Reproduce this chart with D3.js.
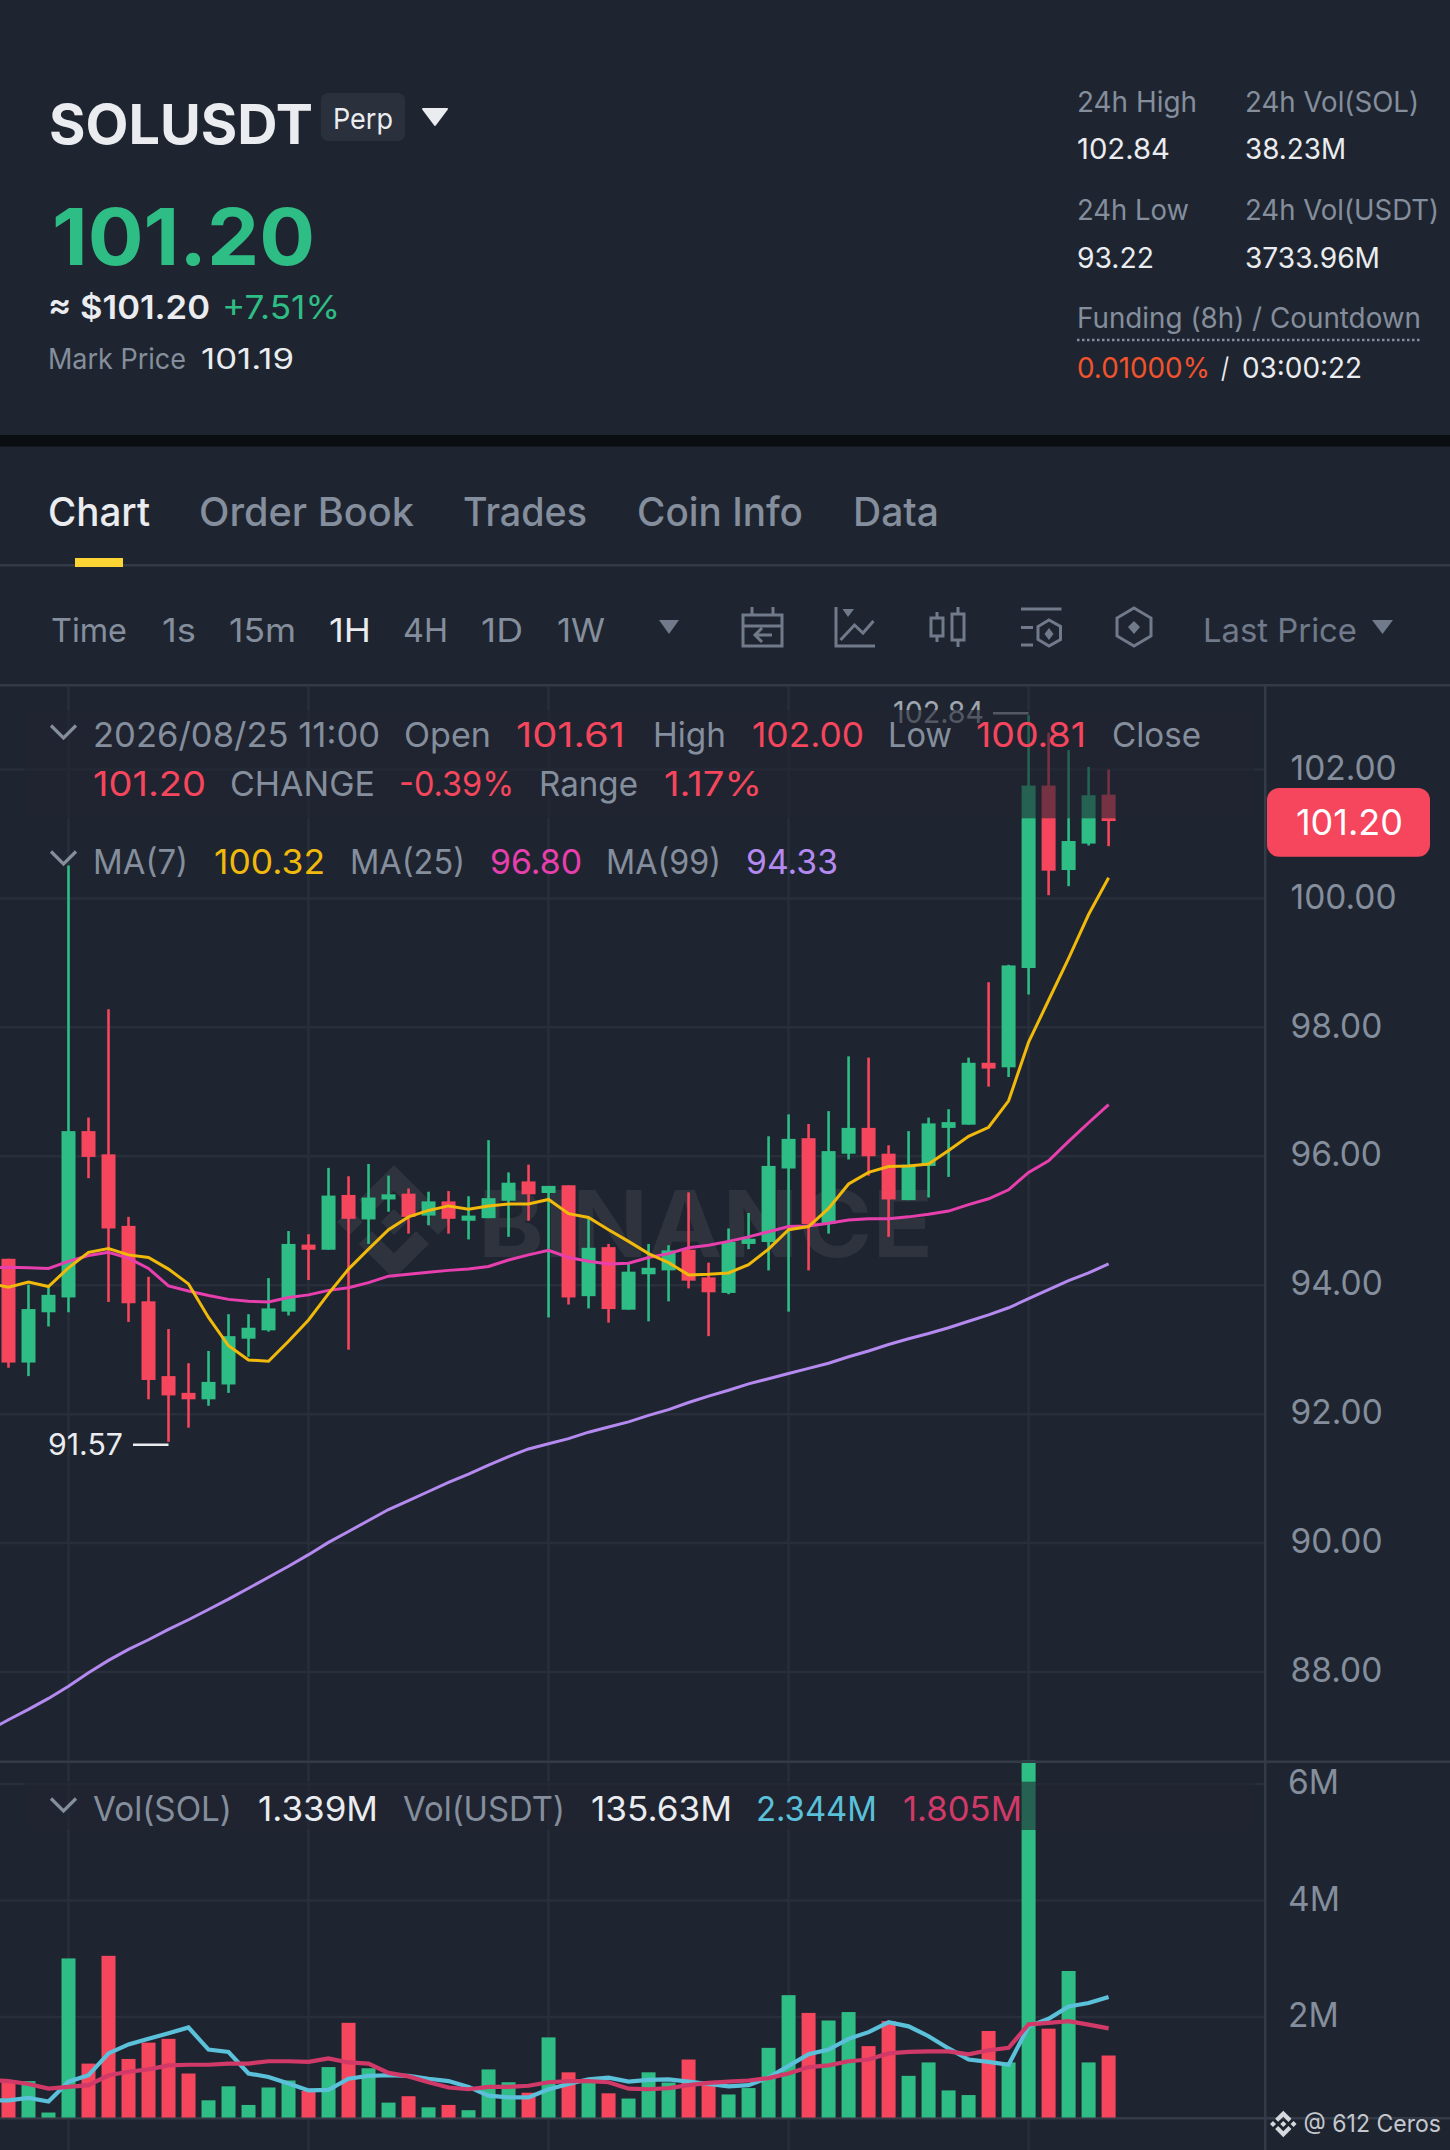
<!DOCTYPE html>
<html>
<head>
<meta charset="utf-8">
<script src="https://cdnjs.cloudflare.com/ajax/libs/d3/7.8.5/d3.min.js"></script>
<style>
  html, body { margin: 0; padding: 0; background: #1f2530; }
  svg { display: block; }
  text { font-family: Inter, "Noto Sans", sans-serif; }
</style>
</head>
<body>
<svg id="chart"></svg>
<script>
const width = 1450;
const height = 2150;

// Candles, oldest first
const opens = [94.41,92.80,93.58,93.81,96.39,96.03,94.92,93.75,92.59,92.33,92.23,92.46,93.17,93.30,93.59,94.63,94.55,95.40,95.02,95.33,95.42,95.08,95.30,95.00,95.04,95.31,95.61,95.43,95.55,93.83,94.59,93.62,94.17,94.23,94.55,94.12,93.88,94.64,94.67,95.81,96.28,94.95,96.04,96.44,96.04,95.32,95.85,96.44,96.49,97.45,97.38,98.92,101.75,100.44,100.85,101.61];
const highs = [94.41,94.01,93.97,100.51,96.60,98.28,95.06,94.13,93.32,92.79,92.98,93.55,93.55,94.11,94.84,94.79,95.82,95.69,95.88,95.70,95.50,95.45,95.46,95.38,96.25,95.75,95.87,95.54,95.55,95.04,94.64,94.33,94.64,94.62,95.44,94.35,94.88,95.12,96.31,96.65,96.50,96.70,97.55,97.53,96.17,96.39,96.60,96.73,97.53,98.70,98.97,102.84,102.57,102.30,102.04,102.00];
const lows = [92.72,92.59,93.36,93.58,95.66,93.74,93.43,92.23,91.57,91.79,92.13,92.33,92.89,93.28,93.53,94.08,94.55,93.00,94.64,95.14,94.80,94.93,94.80,94.71,95.04,94.75,95.00,93.50,93.70,93.64,93.42,93.62,93.44,93.75,93.95,93.21,93.86,94.56,94.23,93.59,94.23,94.80,95.95,95.70,94.75,95.32,95.36,95.68,96.49,97.08,97.23,98.51,100.05,100.19,100.82,100.81];
const closes = [92.80,93.63,93.85,96.39,95.99,94.88,93.72,92.53,92.29,92.23,92.50,93.21,93.34,93.64,94.64,94.55,95.39,95.03,95.36,95.41,95.06,95.30,95.03,95.08,95.35,95.59,95.41,95.54,93.81,94.58,93.63,94.21,94.27,94.54,94.07,93.89,94.67,94.72,95.85,96.27,94.95,96.08,96.44,96.00,95.33,95.87,96.51,96.53,97.45,97.36,98.96,101.75,100.43,100.89,101.60,101.20];
const volumes = [0.875,0.90,0.36,3.006,1.20,3.05,1.28,1.56,1.625,1.03,0.57,0.81,0.49,0.79,0.91,0.73,1.14,1.90,1.12,0.53,0.64,0.45,0.49,0.40,1.10,0.88,0.70,1.65,1.05,0.875,0.69,0.60,1.05,0.875,1.27,0.875,0.67,0.78,1.47,2.375,2.07,1.94,2.085,1.50,1.93,0.99,1.22,0.74,0.66,1.76,1.22,6.40,1.80,2.79,1.22,1.339];

// Moving averages start one candle before the first visible one
const ma7 = [94.03,93.97,94.05,93.98,94.27,94.51,94.57,94.47,94.43,94.25,94.02,93.50,93.06,92.84,92.82,93.13,93.46,93.87,94.25,94.56,94.86,95.06,95.16,95.23,95.18,95.23,95.26,95.26,95.33,95.11,95.05,94.86,94.68,94.49,94.35,94.16,94.17,94.19,94.32,94.56,94.86,94.91,95.19,95.57,95.75,95.84,95.85,95.88,96.09,96.31,96.45,96.86,97.77,98.42,99.07,99.75,100.32];
const ma25 = [94.27,94.28,94.27,94.26,94.37,94.46,94.51,94.42,94.26,93.99,93.91,93.84,93.78,93.75,93.74,93.81,93.85,93.92,93.96,94.04,94.14,94.17,94.20,94.23,94.25,94.29,94.39,94.47,94.54,94.43,94.37,94.33,94.34,94.43,94.49,94.58,94.62,94.68,94.75,94.83,94.91,94.92,94.96,95.01,95.03,95.03,95.06,95.10,95.15,95.25,95.34,95.48,95.75,95.93,96.23,96.52,96.80];
const ma99 = [87.09,87.26,87.42,87.59,87.78,87.99,88.18,88.35,88.50,88.66,88.81,88.97,89.13,89.30,89.47,89.64,89.82,90.01,90.18,90.35,90.52,90.66,90.80,90.94,91.07,91.21,91.34,91.46,91.54,91.62,91.72,91.80,91.88,91.98,92.07,92.18,92.28,92.37,92.47,92.55,92.63,92.71,92.79,92.89,92.98,93.08,93.17,93.25,93.34,93.44,93.54,93.65,93.79,93.93,94.07,94.19,94.33];
const volMa5 = [0.57,0.57,0.61,0.55,0.89,1.00,1.375,1.53,1.625,1.72,1.82,1.44,1.40,1.03,0.97,0.86,0.74,0.75,0.94,0.99,1.00,0.99,0.94,0.90,0.80,0.65,0.62,0.62,0.76,0.85,0.93,0.96,0.89,0.92,0.93,0.89,0.85,0.81,0.83,0.96,1.16,1.36,1.44,1.625,1.74,1.91,1.84,1.67,1.46,1.27,1.23,1.18,1.84,1.97,2.18,2.24,2.344];
const volMa10 = [0.92,0.90,0.85,0.77,0.80,0.83,1.00,1.06,1.10,1.17,1.18,1.18,1.20,1.20,1.24,1.24,1.23,1.29,1.22,1.20,1.04,0.98,0.88,0.79,0.76,0.80,0.80,0.82,0.88,0.90,0.90,0.88,0.77,0.76,0.78,0.83,0.87,0.89,0.91,0.95,1.03,1.14,1.17,1.24,1.27,1.375,1.40,1.41,1.41,1.36,1.43,1.47,1.875,1.90,1.93,1.87,1.805];

const priceTicks = [102, 100, 98, 96, 94, 92, 90, 88];
const volTicks = [6, 4, 2];
const gridCandles = [3, 15, 27, 39, 51];

const tabs = [["Chart", 48, 150], ["Order Book", 199, 414], ["Trades", 463, 587], ["Coin Info", 637, 803], ["Data", 853, 939]];
const intervals = [["Time", 51, 127], ["1s", 162, 196], ["15m", 229, 296], ["1H", 329, 371], ["4H", 403, 448], ["1D", 481, 523], ["1W", 557, 605]];

const bg = "#1f2530";
const up = "#2ebd85";
const down = "#f6465d";
const white = "#eaecef";
const grey = "#848e9c";
const gridColor = "#292f3a";
const lineColor = "#343b47";
const markColor = "#2e333e";
const logoPath = "M38.73 53.2l24.59-24.58 24.6 24.6 14.3-14.31L63.32 0 24.43 38.9zM0 63.31l14.3-14.31 14.31 14.31-14.31 14.3zM38.73 73.41l24.59 24.59 24.6-24.6 14.31 14.29L63.32 126.61 24.41 87.72zM97.99 63.31l14.3-14.3 14.32 14.3-14.31 14.3zM77.83 63.3L63.32 48.78 52.59 59.51l-1.24 1.23-2.54 2.54 14.51 14.5 14.51-14.51z";

const svg = d3.select("#chart").attr("width", width).attr("height", height);
svg.append("rect").attr("width", width).attr("height", height).attr("fill", bg);

function label(g, str, x0, x1, baseline, size, color, weight) {
  return g.append("text")
    .attr("x", x0)
    .attr("y", baseline + 1)
    .attr("textLength", x1 - x0)
    .attr("lengthAdjust", "spacingAndGlyphs")
    .attr("font-size", size)
    .attr("font-weight", weight || 400)
    .attr("fill", color)
    .text(str);
}

// Scales
const x = d3.scaleLinear().domain([3, 51]).range([68.5, 1028.6]);
const y = d3.scaleLinear().domain([88, 100]).range([1672, 898.4]);
const yVol = d3.scaleLinear().domain([2, 6]).range([2017, 1784]);
const volBase = 2117.5;

// Header
const head = svg.append("g");
label(head, "SOLUSDT", 49, 313, 143, 55, white, 700);
head.append("rect").attr("x", 321).attr("y", 93).attr("width", 84).attr("height", 48).attr("rx", 7).attr("fill", "#2a303c");
label(head, "Perp", 333, 393, 128, 29, white);
head.append("path").attr("d", "M423 109H447L435 125Z").attr("fill", white).attr("stroke", white).attr("stroke-width", 2).attr("stroke-linejoin", "round");
label(head, "101.20", 52, 315, 264, 79, up, 700);
label(head, "≈ $101.20", 48, 210, 318, 33, white, 600);
label(head, "+7.51%", 222, 340, 318, 33, up);
label(head, "Mark Price", 48, 186, 368, 28, grey);
label(head, "101.19", 201, 294, 368, 28, white);
label(head, "24h High", 1077, 1197, 111, 28, grey);
label(head, "24h Vol(SOL)", 1245, 1419, 111, 28, grey);
label(head, "102.84", 1077, 1170, 158, 28, white);
label(head, "38.23M", 1245, 1346, 158, 28, white);
label(head, "24h Low", 1077, 1189, 219, 28, grey);
label(head, "24h Vol(USDT)", 1245, 1439, 219, 28, grey);
label(head, "93.22", 1077, 1154, 267, 28, white);
label(head, "3733.96M", 1245, 1380, 267, 28, white);
label(head, "Funding (8h) / Countdown", 1077, 1421, 327, 28, grey);
head.append("line").attr("x1", 1077).attr("x2", 1422).attr("y1", 340).attr("y2", 340)
  .attr("stroke", grey).attr("stroke-width", 2.5).attr("stroke-dasharray", "2.5 2.5");
label(head, "0.01000%", 1077, 1210, 377, 28, "#f0532d");
label(head, "/", 1221, 1229, 377, 28, white);
label(head, "03:00:22", 1242, 1362, 377, 28, white);

// Black band between header and tabs
svg.append("rect").attr("y", 435).attr("width", width).attr("height", 11.5).attr("fill", "#0b0e11");

// Tabs
tabs.forEach((t, i) => label(svg, t[0], t[1], t[2], 525, 39, i === 0 ? white : grey, 500));
svg.append("rect").attr("y", 564).attr("width", width).attr("height", 2.5).attr("fill", lineColor);
svg.append("rect").attr("x", 75).attr("y", 558).attr("width", 48).attr("height", 9).attr("fill", "#fcd535");

// Toolbar
intervals.forEach(t => label(svg, t[0], t[1], t[2], 641, 33, t[0] === "1H" ? white : grey));
label(svg, "Last Price", 1203, 1357, 641, 33, "#707a8a");
const icons = svg.append("g").attr("fill", "none").attr("stroke", "#707a8a").attr("stroke-width", 3);
[[659, 620, 679, 634], [1372, 620, 1393, 634]].forEach(t =>
  icons.append("path").attr("d", `M${t[0]} ${t[1]}H${t[2]}L${(t[0] + t[2]) / 2} ${t[3]}Z`).attr("fill", "#707a8a").attr("stroke", "none"));
icons.append("path").attr("d", "M743 615H782V646H743ZM743 626H782M752 607V615M773 607V615M772 635H755M762 628L755 635L762 642");
icons.append("path").attr("d", "M836 607V646H875M840.5 640L854.5 625L863 633L873.5 621");
icons.append("path").attr("d", "M842.5 609H854L848 617Z").attr("fill", "#707a8a").attr("stroke", "none");
icons.append("path").attr("d", "M931 618H943V636H931ZM937 612V618M937 636V642M952 614H964V640H952ZM958 607V614M958 640V647");
icons.append("path").attr("d", "M1021 609H1061.5M1021 627.5H1033M1021 645H1033M1049 620L1060.5 626.5V639.5L1049 646L1038 639.5V626.5Z");
icons.append("path").attr("d", "M1049 628L1053.5 634L1049 640L1044.5 634Z").attr("fill", "#707a8a").attr("stroke", "none");
icons.append("path").attr("d", "M1134 608L1151 618V636L1134 646L1117 636V618Z");
icons.append("path").attr("d", "M1134 621L1140 627L1134 634L1128 627Z").attr("fill", "#707a8a").attr("stroke", "none");
svg.append("rect").attr("y", 684).attr("width", width).attr("height", 2.5).attr("fill", lineColor);

// Grid
const grid = svg.append("g").attr("stroke", gridColor).attr("stroke-width", 2.5);
grid.selectAll(".priceGrid").data(priceTicks).enter().append("line")
  .attr("class", "priceGrid")
  .attr("x1", 0).attr("x2", 1265)
  .attr("y1", d => y(d)).attr("y2", d => y(d));
grid.selectAll(".volGrid").data(volTicks).enter().append("line")
  .attr("class", "volGrid")
  .attr("x1", 0).attr("x2", 1265)
  .attr("y1", d => yVol(d)).attr("y2", d => yVol(d));
grid.selectAll(".timeGrid").data(gridCandles).enter().append("line")
  .attr("class", "timeGrid")
  .attr("x1", d => x(d)).attr("x2", d => x(d))
  .attr("y1", 686).attr("y2", height);

// Watermark
svg.append("path").attr("d", logoPath).attr("fill", markColor).attr("transform", "translate(337,1165) scale(0.9)");
label(svg, "BINANCE", 478, 933, 1256, 92, markColor, 700);

// Right axis edge and volume baseline
svg.append("rect").attr("x", 1264).attr("y", 686).attr("width", 2.5).attr("height", height - 686).attr("fill", lineColor);
svg.append("rect").attr("y", 2117).attr("width", width).attr("height", 2.5).attr("fill", lineColor);

// Candles
const idx = d3.range(opens.length);
const candleColor = i => closes[i] >= opens[i] ? up : down;
const candles = svg.append("g");
candles.selectAll(".wick").data(idx).enter().append("line")
  .attr("class", "wick")
  .attr("x1", i => x(i)).attr("x2", i => x(i))
  .attr("y1", i => y(highs[i])).attr("y2", i => y(lows[i]))
  .attr("stroke", candleColor).attr("stroke-width", 2.6);
candles.selectAll(".body").data(idx).enter().append("rect")
  .attr("class", "body")
  .attr("x", i => x(i) - 7).attr("width", 14)
  .attr("y", i => y(Math.max(opens[i], closes[i])))
  .attr("height", i => Math.max(3, Math.abs(y(opens[i]) - y(closes[i]))))
  .attr("fill", candleColor);

// MA lines
const maLine = d3.line().x((d, i) => x(i - 1)).y(d => y(d));
[[ma99, "#b58af0"], [ma25, "#e83fae"], [ma7, "#f0b90b"]].forEach(m =>
  svg.append("path").attr("d", maLine(m[0])).attr("fill", "none").attr("stroke", m[1]).attr("stroke-width", 3));

// High / low markers
label(svg, "102.84", 893, 984, 722, 30, "#a0a6af");
svg.append("line").attr("x1", 993).attr("x2", x(51)).attr("y1", y(d3.max(highs)) - 2).attr("y2", y(d3.max(highs)) - 2).attr("stroke", "#a0a6af").attr("stroke-width", 2.5);
label(svg, "91.57", 48, 123, 1454, 30, white);
svg.append("line").attr("x1", 133).attr("x2", x(8)).attr("y1", y(d3.min(lows)) + 3).attr("y2", y(d3.min(lows)) + 3).attr("stroke", white).attr("stroke-width", 2.5);

// Volume bars
const bars = svg.append("g");
bars.selectAll("rect").data(idx).enter().append("rect")
  .attr("x", i => x(i) - 7).attr("width", 14)
  .attr("y", i => yVol(volumes[i]))
  .attr("height", i => volBase - yVol(volumes[i]))
  .attr("fill", candleColor);

const volLine = d3.line().x((d, i) => x(i - 1)).y(d => yVol(d));
[[volMa5, "#5bc0d9"], [volMa10, "#d13a68"]].forEach(m =>
  svg.append("path").attr("d", volLine(m[0])).attr("fill", "none").attr("stroke", m[1]).attr("stroke-width", 4.2));

// Divider between the panels sits on top of the tall bar
svg.append("rect").attr("y", 1760.5).attr("width", width).attr("height", 2.5).attr("fill", lineColor);

// Legend backdrops dim whatever runs behind the legend rows
svg.append("rect").attr("x", 24).attr("y", 710).attr("width", 1231).attr("height", 108.3).attr("fill", bg).attr("opacity", 0.6);
svg.append("rect").attr("x", 24).attr("y", 1781.7).attr("width", 1231).attr("height", 48.3).attr("fill", bg).attr("opacity", 0.6);

// Legends
const chevron = (cy) => svg.append("path")
  .attr("d", `M51 ${cy - 6.5}L63.5 ${cy + 6}L76 ${cy - 6.5}`)
  .attr("fill", "none").attr("stroke", grey).attr("stroke-width", 3.2);
chevron(732);
chevron(858);
chevron(1805);

const legend = svg.append("g");
[["2026/08/25 11:00", 93, 380, grey], ["Open", 404, 491, grey], ["101.61", 516, 625, down],
 ["High", 653, 726, grey], ["102.00", 752, 864, down], ["Low", 888, 952, grey],
 ["100.81", 976, 1086, down], ["Close", 1112, 1201, grey]]
  .forEach(d => label(legend, d[0], d[1], d[2], 746, 34, d[3]));
[["101.20", 93, 206, down], ["CHANGE", 230, 375, grey], ["-0.39%", 399, 514, down],
 ["Range", 539, 638, grey], ["1.17%", 664, 762, down]]
  .forEach(d => label(legend, d[0], d[1], d[2], 795, 34, d[3]));
[["MA(7)", 93, 188, grey], ["100.32", 214, 325, "#f0b90b"], ["MA(25)", 350, 465, grey],
 ["96.80", 490, 582, "#e83fae"], ["MA(99)", 606, 721, grey], ["94.33", 746, 838, "#b58af0"]]
  .forEach(d => label(legend, d[0], d[1], d[2], 873, 34, d[3]));
[["Vol(SOL)", 93, 232, grey], ["1.339M", 258, 378, white], ["Vol(USDT)", 403, 565, grey],
 ["135.63M", 591, 732, white], ["2.344M", 756, 877, "#5bc0d9"], ["1.805M", 903, 1022, "#d13a68"]]
  .forEach(d => label(legend, d[0], d[1], d[2], 1820, 34, d[3]));

// Price and volume axes
const axisText = g => g.selectAll("text").attr("font-size", 33.5).attr("fill", grey).attr("font-family", "Inter").attr("dy", "0.29em");
const priceAxis = d3.axisRight(y).tickValues(priceTicks).tickFormat(d3.format(".2f")).tickSize(0).tickPadding(0);
svg.append("g").attr("transform", "translate(1290.5,0)").call(priceAxis)
  .call(g => g.select(".domain").remove())
  .call(axisText);
const volAxis = d3.axisRight(yVol).tickValues(volTicks).tickFormat(d => d + "M").tickSize(0).tickPadding(0);
svg.append("g").attr("transform", "translate(1288,0)").call(volAxis)
  .call(g => g.select(".domain").remove())
  .call(axisText);

// Last price tag
svg.append("rect").attr("x", 1267).attr("y", 788).attr("width", 163).attr("height", 68.7).attr("rx", 12).attr("fill", down);
svg.append("text").attr("x", 1349.5).attr("y", 835).attr("text-anchor", "middle").attr("font-size", 36).attr("fill", "#ffffff").text(closes[closes.length - 1].toFixed(2));

// Footer credit
svg.append("path").attr("d", logoPath).attr("fill", "#d5d8dc").attr("transform", "translate(1270,2110.7) scale(0.21)");
label(svg, "@ 612 Ceros", 1303.5, 1441, 2131, 24, "#c4c8ce");
</script>
</body>
</html>
